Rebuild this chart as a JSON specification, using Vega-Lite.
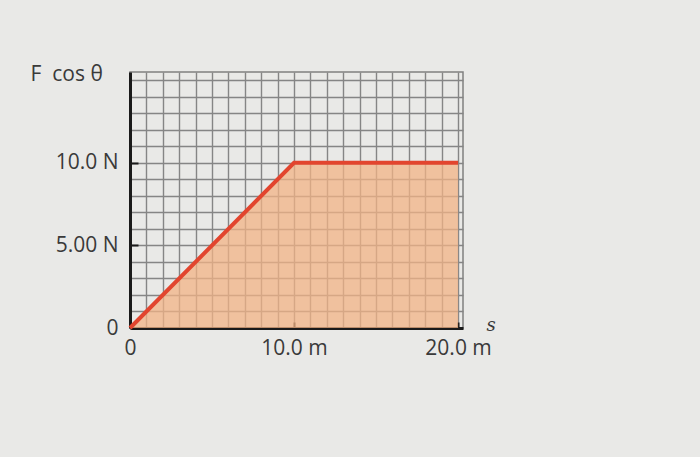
{
  "$schema": "https://vega.github.io/schema/vega-lite/v6.json",
  "autosize": {"type": "none"},
  "width": 333,
  "height": 256,
  "padding": {"left": 130, "top": 72, "right": 237, "bottom": 129},
  "background": "#e9e9e7",
  "config": {
    "view": {"stroke": "#808080", "strokeWidth": 1.5},
    "axis": {"labelFont": "Open Sans", "labelFontSize": 21, "labelColor": "#3a3a3a", "titleFont": "Open Sans", "titleColor": "#3a3a3a", "titleFontWeight": "normal", "gridColor": "#858585", "gridWidth": 1.4, "gridOpacity": 1, "labelOverlap": false, "labelBound": false}
  },
  "data": {"values": [
    {"s": 0, "F": 0},
    {"s": 10, "F": 10},
    {"s": 20, "F": 10}
  ]},
  "encoding": {
    "x": {
      "field": "s", "type": "quantitative",
      "scale": {"domain": [0, 20.3], "nice": false, "zero": false},
      "axis": {
        "values": [0,1,2,3,4,5,6,7,8,9,10,11,12,13,14,15,16,17,18,19,20],
        "labelExpr": "datum.value == 0 ? '0' : (datum.value % 10 == 0 ? format(datum.value, '.1f') + ' m' : '')",
        "domainColor": "#1a1a1a", "domainWidth": 3,
        "tickColor": {"condition": {"test": "datum.value == 10 || datum.value == 20", "value": "#1a1a1a"}, "value": "transparent"},
        "tickWidth": 2,
        "tickSize": -6,
        "labelPadding": 15,
        "labelFlush": false,
        "title": "s",
        "titleFont": "DejaVu Serif",
        "titleFontStyle": "italic",
        "titleFontSize": 18,
        "titleAngle": 0,
        "titleBaseline": "bottom",
        "titleX": 356,
        "titleY": 6,
        "titleAlign": "left"
      }
    },
    "y": {
      "field": "F", "type": "quantitative",
      "scale": {"domain": [0, 15.5], "nice": false},
      "axis": {
        "values": [0,1,2,3,4,5,6,7,8,9,10,11,12,13,14,15],
        "labelExpr": "datum.value == 0 ? '0' : (datum.value == 5 ? '5.00 N' : (datum.value == 10 ? '10.0 N' : ''))",
        "domainColor": "#1a1a1a", "domainWidth": 3,
        "tickColor": {"condition": {"test": "datum.value == 5 || datum.value == 10", "value": "#1a1a1a"}, "value": "transparent"},
        "tickWidth": 2,
        "tickSize": -8,
        "labelPadding": 20,
        "title": "F\u00a0\u00a0cos\u00a0θ",
        "titleFontSize": 21,
        "titleAngle": 0,
        "titleAlign": "left",
        "titleBaseline": "middle",
        "titleX": -100,
        "titleY": 2
      }
    }
  },
  "layer": [
    {
      "mark": {"type": "area", "color": "#f1b386", "opacity": 0.75}
    },
    {
      "mark": {"type": "line", "color": "#e2452e", "strokeWidth": 4}
    }
  ]
}
